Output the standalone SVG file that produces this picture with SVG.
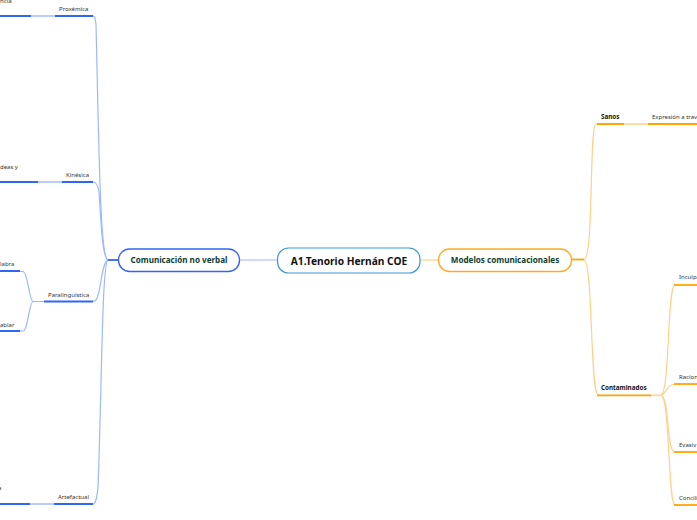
<svg xmlns="http://www.w3.org/2000/svg" width="697" height="520" viewBox="0 0 697 520">
<style>
text{font-family:"Noto Sans","Open Sans",sans-serif}
.t{font-size:6px;fill:#333}
.b{font-size:6.300px;font-weight:700;fill:#111}
.m{font-size:8.100px;font-weight:700;fill:#0f3d33;text-anchor:middle}
.l{fill:none;stroke:#9bb8ff;stroke-width:1.200}
.o{fill:none;stroke:#ffd08a;stroke-width:1.200}
.ub{fill:none;stroke:#2f66f5;stroke-width:1.800}
.ul{fill:none;stroke:#b3c8fb;stroke-width:1.800}
.uo{fill:none;stroke:#ffa500;stroke-width:1.800}
.uol{fill:none;stroke:#ffd79a;stroke-width:1.800}
</style>
<g id="connectors">
<path class="l" d="M240 260H277"/>
<path class="o" d="M420 260H439"/>
<path class="ub" d="M108 260H118"/>
<path class="uo" d="M572 259.500H584"/>
<path class="l" d="M108 260C100 258 99 150 96 24C95 18 95 16 93 16"/>
<path class="l" d="M108 260C102 257 101 220 99 192C98 185 96 182 93 182"/>
<path class="l" d="M108 260C102 261 101 290 97 298C96 301 95 301 93 301"/>
<path class="l" d="M108 260C102 262 102 380 98 488C97 496 96 504 93 504"/>
<path class="l" d="M44 301.500H33C29 301 28 272 23 271.500H20"/>
<path class="l" d="M33 301.500C29 302 28 331 23 331H20"/>
<path class="o" d="M584 259.500C594 258 589 124 596 124H599"/>
<path class="o" d="M584 259.500C593 262 590 392 598 395H600"/>
<path class="o" d="M661 395C670 392 667 285 675 285H677"/>
<path class="o" d="M661 395C666 394 667 384 675 384H677"/>
<path class="o" d="M661 395C670 398 666 452 675 452H677"/>
<path class="o" d="M661 395C670 398 668 505 675 505H677"/>
</g>
<g id="root"><rect x="277.500" y="248" width="142.500" height="25" rx="11" fill="#fff" stroke="#3d97d8" stroke-width="1.200"/><text x="349" y="264.500" font-size="10.200" font-weight="700" fill="#111" text-anchor="middle">A1.Tenorio Hernán COE</text></g>
<g id="comunicacion"><rect x="118.500" y="249" width="121" height="22.500" rx="11" fill="#fff" stroke="#2f66f5" stroke-width="1.300"/><text class="m" x="179" y="263">Comunicación no verbal</text></g>
<g id="modelos"><rect x="438.500" y="249" width="133" height="22.500" rx="11" fill="#fff" stroke="#ffa928" stroke-width="1.300"/><text class="m" x="505" y="263">Modelos comunicacionales</text></g>
<g id="proxemica"><path class="ub" d="M0 16H31M55 16H93"/><path class="ul" d="M31 16H55"/><text class="t" x="59" y="11">Proxémica</text><text class="t" x="0" y="3">ncia</text></g>
<g id="kinesica"><path class="ub" d="M0 182H38M62 182H93"/><path class="ul" d="M38 182H62"/><text class="t" x="66" y="177">Kinésica</text><text class="t" x="0" y="169">deas y</text></g>
<g id="paralinguistica"><path class="ub" d="M44 301.500H93M0 271H20M0 331H20"/><text class="t" x="48" y="296.500">Paralinguística</text><text class="t" x="0" y="266">labra</text><text class="t" x="0" y="327">ablar</text></g>
<g id="artefactual"><path class="ub" d="M0 504H30M54 504H93"/><path class="ul" d="M30 504H54"/><text class="t" x="58" y="499">Artefactual</text><text class="t" x="-2" y="490">a</text></g>
<g id="sanos"><path class="uo" d="M597 124H624M648 124H697"/><path class="uol" d="M624 124H648"/><text class="b" x="601" y="119">Sanos</text><text class="t" x="652" y="119">Expresión a trav</text></g>
<g id="contaminados"><path class="uo" d="M597 395.300H651"/><path class="uol" d="M651 395.300H661"/><text class="b" x="601" y="390">Contaminados</text></g>
<g id="inculpa"><path class="uo" d="M674 285H697"/><text class="t" x="679" y="279">Inculpa</text></g>
<g id="racion"><path class="uo" d="M674 384H697"/><text class="t" x="679" y="379">Racion</text></g>
<g id="evasiv"><path class="uo" d="M674 452H697"/><text class="t" x="679" y="447">Evasiv</text></g>
<g id="concili"><path class="uo" d="M674 505H697"/><text class="t" x="679" y="500">Concili</text></g>
</svg>
